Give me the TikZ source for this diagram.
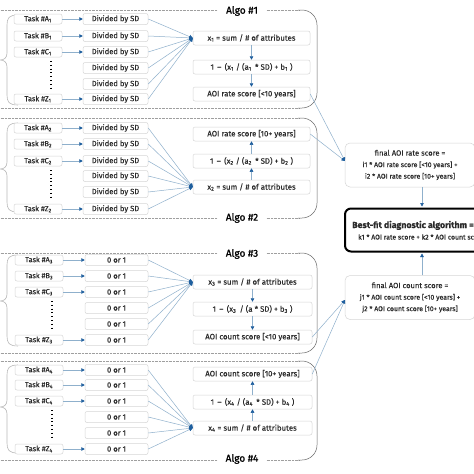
\documentclass[tikz,border=0pt]{standalone}
\usepackage{fontspec}
\setmainfont{Fira Sans}[FakeBold=0.35]
\newfontfamily\algofont{Fira Sans}[FakeBold=1.1]
\usetikzlibrary{arrows.meta}
\definecolor{lnc}{HTML}{8FB0CC}
\definecolor{tipc}{HTML}{1F5F9E}
\definecolor{bxc}{HTML}{D6D6D6}
\definecolor{txc}{HTML}{2B2B2B}
\tikzset{
 bx/.style={draw=bxc, line width=0.5pt, rounded corners=2pt, fill=white, text=txc, inner sep=0pt, font=\fontsize{7.4}{8}\selectfont},
 taskbox/.style={bx, minimum width=48pt, minimum height=10pt},
 divbox/.style={bx, minimum width=65pt, minimum height=11pt, font=\fontsize{7.6}{8}\selectfont},
 calcbox/.style={bx, minimum width=117pt, minimum height=14pt, font=\fontsize{7.8}{8}\selectfont},
 finbox/.style={bx, rounded corners=5pt, minimum width=130pt, minimum height=44pt, align=center, font=\fontsize{6.9}{11.5}\selectfont},
 link/.style={draw=lnc, line width=0.5pt},
 arr/.style={link, -{Triangle[length=3.5pt,width=3.5pt,color=tipc]}},
 pdot/.style={draw=gray!75, line width=0.7pt, dash pattern=on 0.8pt off 0.6pt},
 psolid/.style={draw=gray!80!black, line width=0.5pt, rounded corners=15pt},
 brc/.style={draw=gray!55, line width=0.6pt},
 vdots/.style={draw=black, line width=1.1pt, dash pattern=on 1pt off 2.8pt},
 algo/.style={fill=white, text=black, inner xsep=8pt, inner ysep=1pt, font=\algofont\fontsize{10}{12}\selectfont}
}
\begin{document}
\begin{tikzpicture}[x=1pt,y=-1pt]
\path[use as bounding box] (0,0) rectangle (474,474);
\clip (0,0) rectangle (474,474);
\fill[white] (0,0) rectangle (474,474);

% panels
\foreach \t/\b in {10/108, 118/218, 253/353, 361/460} {
  \draw[pdot] (-5,\t) -- (300,\t);
  \draw[pdot] (-5,\b) -- (300,\b);
  \draw[psolid] (298,\t) -- (317,\t) -- (317,\b) -- (298,\b);
}
% braces
\foreach \t/\m/\b in {15/60/105, 123/169/212, 255/301/346, 365/407/453} {
  \draw[brc] (18,\t) .. controls (9,\t) and (7,\t+3) .. (7,\t+10) -- (7,\m-7)
    .. controls (7,\m-2) and (4,\m) .. (0,\m) .. controls (4,\m) and (7,\m+2) .. (7,\m+7)
    -- (7,\b-10) .. controls (7,\b-3) and (9,\b) .. (18,\b);
}

% ---------- Algo 1 ----------
\foreach \n/\l/\y in {a/A/19, b/B/36, c/C/52, z/Z/99}
  \node[taskbox] (t1\n) at (38,\y) {Task \#\l\textsubscript{1}};
\foreach \n/\y in {1/19,2/36,3/52,4/68,5/84,6/99}
  \node[divbox] (d1\n) at (115.5,\y) {Divided by SD};
\foreach \n/\m in {a/1,b/2,c/3,z/6} \draw[arr] (t1\n) -- (d1\m);
\draw[vdots] (51,61) -- (51,90);
\node[calcbox] (x1) at (251.5,38) {x\textsubscript{1} = sum / \# of attributes};
\node[calcbox] (f1) at (251.5,67) {1 \,–\, (x\textsubscript{1} / (a\textsubscript{1} \,* SD) + b\textsubscript{1} )};
\node[calcbox] (s1) at (251.5,94) {AOI rate score [<10 years]};
\foreach \m in {1,...,6} \draw[arr] (d1\m.east) -- (x1.west);
\draw[arr] (x1) -- (f1);
\draw[arr] (f1) -- (s1);
\node[algo] (al1) at (242,11) {Algo \#1};

% ---------- Algo 2 ----------
\foreach \n/\l/\y in {a/A/128, b/B/144, c/C/161, z/Z/209}
  \node[taskbox] (t2\n) at (38,\y) {Task \#\l\textsubscript{2}};
\foreach \n/\y in {1/128,2/144,3/161,4/176,5/192,6/209}
  \node[divbox] (d2\n) at (115.5,\y) {Divided by SD};
\foreach \n/\m in {a/1,b/2,c/3,z/6} \draw[arr] (t2\n) -- (d2\m);
\draw[vdots] (51,170) -- (51,199);
\node[calcbox] (s2) at (251.5,134) {AOI rate score [10+ years]};
\node[calcbox] (f2) at (251.5,161) {1 \,–\, (x\textsubscript{2} / (a\textsubscript{2} \,* SD) + b\textsubscript{2} )};
\node[calcbox] (x2) at (251.5,187) {x\textsubscript{2} = sum / \# of attributes};
\foreach \m in {1,...,6} \draw[arr] (d2\m.east) -- (x2.west);
\draw[arr] (x2) -- (f2);
\draw[arr] (f2) -- (s2);
\node[algo] (al2) at (242,218) {Algo \#2};

% ---------- Algo 3 ----------
\foreach \n/\l/\y in {a/A/260, b/B/276, c/C/292, z/Z/340}
  \node[taskbox] (t3\n) at (39,\y) {Task \#\l\textsubscript{3}};
\foreach \n/\y in {1/260,2/276,3/292,4/308,5/324,6/340}
  \node[divbox, minimum width=63pt] (d3\n) at (116.5,\y) {0 or 1};
\foreach \n/\m in {a/1,b/2,c/3,z/6} \draw[arr] (t3\n) -- (d3\m);
\draw[vdots] (52,301) -- (52,330);
\node[calcbox, minimum width=119pt] (x3) at (252.5,282) {x\textsubscript{3} = sum / \# of attributes};
\node[calcbox, minimum width=119pt] (f3) at (252.5,309) {1 \,–\, (x\textsubscript{3} \,/ (a * SD) + b\textsubscript{3} )};
\node[calcbox, minimum width=119pt] (s3) at (252.5,337) {AOI count score [<10 years]};
\foreach \m in {1,...,6} \draw[arr] (d3\m.east) -- (x3.west);
\draw[arr] (x3) -- (f3);
\draw[arr] (f3) -- (s3);
\node[algo] (al3) at (242,254) {Algo \#3};

% ---------- Algo 4 ----------
\foreach \n/\l/\y in {a/A/370, b/B/385, c/C/401, z/Z/449}
  \node[taskbox] (t4\n) at (39,\y) {Task \#\l\textsubscript{4}};
\foreach \n/\y in {1/370,2/385,3/401,4/417,5/433,6/449}
  \node[divbox, minimum width=63pt] (d4\n) at (116.5,\y) {0 or 1};
\foreach \n/\m in {a/1,b/2,c/3,z/6} \draw[arr] (t4\n) -- (d4\m);
\draw[vdots] (52,410) -- (52,439);
\node[calcbox, minimum width=119pt] (s4) at (252.5,374) {AOI count score [10+ years]};
\node[calcbox, minimum width=119pt] (f4) at (252.5,402) {1 \,–\, (x\textsubscript{4} / (a\textsubscript{4} \,* SD) + b\textsubscript{4} )};
\node[calcbox, minimum width=119pt] (x4) at (252.5,428) {x\textsubscript{4} = sum / \# of attributes};
\foreach \m in {1,...,6} \draw[arr] (d4\m.east) -- (x4.west);
\draw[arr] (x4) -- (f4);
\draw[arr] (f4) -- (s4);
\node[algo] (al4) at (242,459) {Algo \#4};

% ---------- right side ----------
\node[finbox] (fr) at (410,165) {{\fontsize{7.6}{11.5}\selectfont final AOI rate score =}\\ i1 * AOI rate score [<10 years] +\\ i2 * AOI rate score [10+ years]};
\node[finbox] (fc) at (410,297.5) {{\fontsize{7.6}{11.5}\selectfont final AOI count score =}\\ j1 * AOI count score [<10 years] +\\ j2 * AOI count score [10+ years]};
\node[draw=black, line width=2pt, rounded corners=6pt, fill=white, text=txc, minimum width=154pt, minimum height=43pt, inner sep=0pt] (bf) at (422,230) {};
\node[anchor=base west, text=txc, inner sep=0pt, font=\fontsize{8.8}{12}\selectfont\bfseries] (bft) at (352,228) {Best-fit diagnostic algorithm =};
\node[anchor=base west, text=txc, inner sep=0pt, font=\fontsize{6.9}{9}\selectfont] (bfs) at (358,239.5) {k1 * AOI rate score + k2 * AOI count score};
\draw[arr, shorten >=1pt] (fr.south -| bf.north) -- (bf.north);
\draw[arr, shorten >=1pt] (fc.north -| bf.south) -- (bf.south);

\coordinate (frin) at (345,161);
\coordinate (fcin) at (345,300);
\draw[arr] (s1.east) -- (frin);
\draw[arr] (s2.east) -- (frin);
\draw[arr] (s3.east) -- (fcin);
\draw[arr] (s4.east) -- (fcin);
\end{tikzpicture}
\end{document}
